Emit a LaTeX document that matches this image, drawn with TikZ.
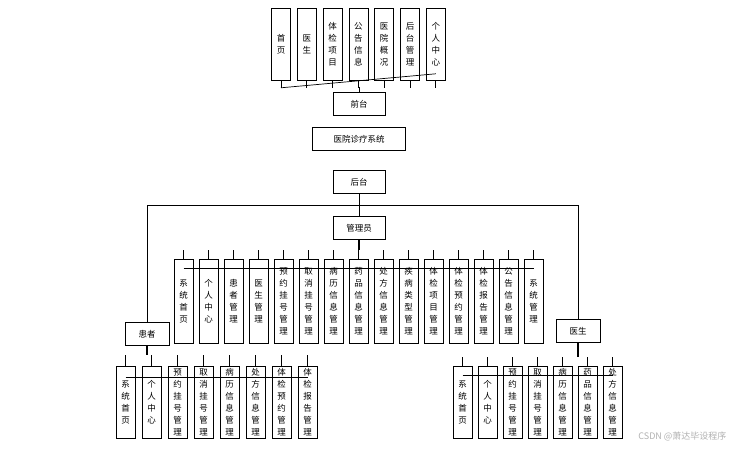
\documentclass[tikz,border=0pt]{standalone}
\usepackage{fontspec}
\newfontfamily\cjk{Noto Sans CJK SC}
\begin{document}
\begin{tikzpicture}[x=1pt,y=-1pt,
 hb/.style={draw,line width=0.8pt,fill=white,minimum width=44pt,minimum height=23pt,font=\cjk\fontsize{8.5}{10}\selectfont,inner sep=1pt},
 vb/.style={draw,line width=0.8pt,fill=white,minimum width=19pt,anchor=north,font=\cjk\fontsize{8.5}{12}\selectfont,align=center,inner sep=1pt},
 ln/.style={line width=0.7pt}]
\useasboundingbox (0,0) rectangle (737,449);
\fill[white] (0,0) rectangle (737,449);
% top
\foreach \t [count=\i] in {首\\页,医\\生,体\\检\\项\\目,公\\告\\信\\息,医\\院\\概\\况,后\\台\\管\\理,个\\人\\中\\心}{
  \node[vb,minimum height=72pt] (t\i) at ({281+25.8*(\i-1)},8) {\t};
  \draw[ln] (t\i.south) -- ++(0,7);
}
\draw[ln] (t1.south) ++(0,7) -- ([yshift=7]t7.south);
\node[hb,minimum width=52pt] (qt) at (359,104) {前台};
\draw[ln] (359,87) -- (qt.north);
\node[hb,minimum width=93pt] (sys) at (359,139) {医院诊疗系统};
\node[hb,minimum width=52pt] (ht) at (359,182) {后台};
\node[hb,minimum width=52pt] (gly) at (359,228) {管理员};
\draw[ln] (ht) -- (gly);
\node[hb] (hz) at (147,334) {患者};
\node[hb] (ys) at (578,331) {医生};
\coordinate (L) at (147,205);
\coordinate (R) at (578,205);
\draw[ln] (hz.north) -- (L) -- (R) -- (ys.north);
% admin children
\foreach \t [count=\i] in {系\\统\\首\\页,个\\人\\中\\心,患\\者\\管\\理,医\\生\\管\\理,预\\约\\挂\\号\\管\\理,取\\消\\挂\\号\\管\\理,病\\历\\信\\息\\管\\理,药\\品\\信\\息\\管\\理,处\\方\\信\\息\\管\\理,疾\\病\\类\\型\\管\\理,体\\检\\项\\目\\管\\理,体\\检\\预\\约\\管\\理,体\\检\\报\\告\\管\\理,公\\告\\信\\息\\管\\理,系\\统\\管\\理}{
  \node[vb,minimum height=84pt] (a\i) at ({183.5+25*(\i-1)},259) {\t};
  \draw[ln] (a\i.north) -- ++(0,-9);
}
\draw[ln] ([yshift=-9]a1.north) -- ([yshift=-9]a15.north);
\draw[line width=1.4pt] (gly.south) -- (359,250);
% patient children
\foreach \t [count=\i] in {系\\统\\首\\页,个\\人\\中\\心,预\\约\\挂\\号\\管\\理,取\\消\\挂\\号\\管\\理,病\\历\\信\\息\\管\\理,处\\方\\信\\息\\管\\理,体\\检\\预\\约\\管\\理,体\\检\\报\\告\\管\\理}{
  \node[vb,minimum height=72pt] (p\i) at ({125.5+26*(\i-1)},366) {\t};
  \draw[ln] (p\i.north) -- ++(0,-11);
}
\draw[ln] ([yshift=-11]p1.north) -- ([yshift=-11]p8.north);
\draw[line width=1.4pt] (hz.south) -- (147,355);
% doctor children
\foreach \t [count=\i] in {系\\统\\首\\页,个\\人\\中\\心,预\\约\\挂\\号\\管\\理,取\\消\\挂\\号\\管\\理,病\\历\\信\\息\\管\\理,药\\品\\信\\息\\管\\理,处\\方\\信\\息\\管\\理}{
  \node[vb,minimum height=72pt] (d\i) at ({462.5+25*(\i-1)},366) {\t};
  \draw[ln] (d\i.north) -- ++(0,-9);
}
\draw[ln] ([yshift=-9]d1.north) -- ([yshift=-9]d7.north);
\draw[line width=1.4pt] (ys.south) -- (578,357);
\node[text=black!30,font=\cjk\fontsize{9}{10}\selectfont,anchor=east] (wm) at (730,436) {CSDN @萧达毕设程序};
\end{tikzpicture}
\end{document}
